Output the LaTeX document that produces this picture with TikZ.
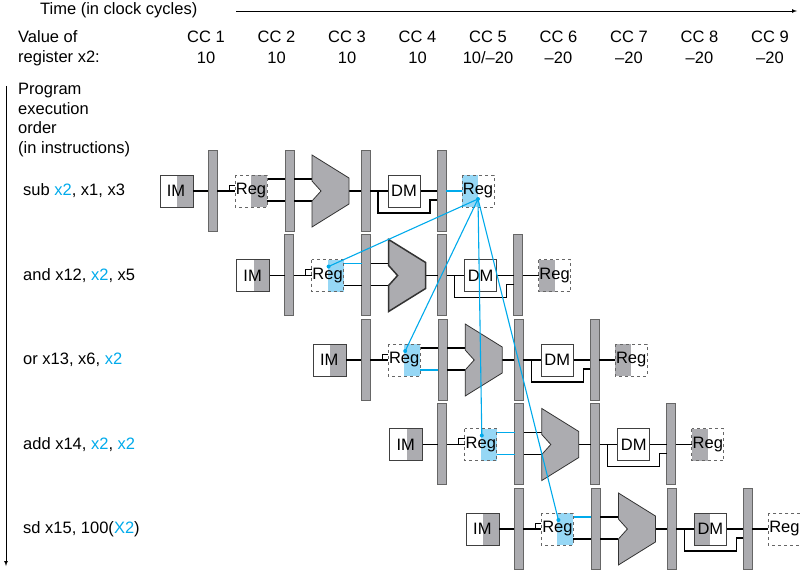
\documentclass[tikz,border=0pt]{standalone}
\usepackage{fontspec}
\setmainfont{Liberation Sans}
\begin{document}
\begin{tikzpicture}[x=1pt,y=-1pt,
  every node/.style={font=\fontsize{16.5}{20}\selectfont, inner sep=0pt},
  pipe/.style={fill=grayf, draw=black!60, line width=0.8pt},
  box/.style={draw=black!75, line width=0.8pt},
  dbox/.style={draw=black!60, dashed, line width=0.7pt},
  wire/.style={line width=1.1pt},
  hg/.style={fill=grayf}, hb/.style={fill=lblue}, hn/.style={},
  lk/.style={draw=black}, lc/.style={draw=cyanl},
  fwd/.style={draw=cyanl, line width=1.1pt},
  arr/.style={-latex, line width=0.7pt}]
\definecolor{grayf}{RGB}{172,172,176}
\definecolor{lblue}{RGB}{150,215,245}
\definecolor{cyanl}{RGB}{0,170,235}
\useasboundingbox (0,0) rectangle (800,572);
% header
\node[anchor=west] (time) at (40,10) {Time (in clock cycles)};
\coordinate (tarrS) at (236,11); \coordinate (tarrE) at (797,11);
\draw[arr] (tarrS) -- (tarrE);
\node[anchor=west] (vo) at (18,37) {Value of};
\node[anchor=west] (rx) at (18,58) {register x2:};
\foreach \k in {1,...,9}{
  \node (cc\k) at ({206+70.5*(\k-1)},37) {CC \k};
}
\foreach \k/\v in {1/10,2/10,3/10,4/10,5/{10/\textendash20},6/\textendash20,7/\textendash20,8/\textendash20,9/\textendash20}{
  \node (val\k) at ({206+70.5*(\k-1)},58) {\v};
}
\node[anchor=north west, align=left, font=\fontsize{16.5}{19.5}\selectfont] (peo) at (18,83) {Program\\execution\\order\\(in instructions)};
\coordinate (vaS) at (6,86); \coordinate (vaE) at (6,566);
\draw[arr] (vaS) -- (vaE);
\node[anchor=west] (i0) at (23,191) {sub \textcolor{cyanl}{x2}, x1, x3};
\node[anchor=west] (i1) at (23,275.5) {and x12, \textcolor{cyanl}{x2}, x5};
\node[anchor=west] (i2) at (23,360) {or x13, x6, \textcolor{cyanl}{x2}};
\node[anchor=west] (i3) at (23,444.5) {add x14, \textcolor{cyanl}{x2}, \textcolor{cyanl}{x2}};
\node[anchor=west] (i4) at (23,529) {sd x15, 100(\textcolor{cyanl}{X2})};
% rows
\foreach \i/\idf/\dmf/\wbf/\tc/\bc/\wc/\alw in {0/hg/hn/hb/lk/lk/lc/0.8pt,1/hb/hn/hg/lc/lk/lk/1.5pt,2/hb/hn/hg/lk/lc/lk/0.8pt,3/hb/hn/hg/lc/lc/lk/0.8pt,4/hb/hg/hn/lc/lk/lk/0.8pt}{
\begin{scope}[shift={(\i*76.6,\i*84.5)}]
  % IM
  \fill[grayf] (177,175) rectangle (193,207);
  \draw[box] (160,175) rectangle (193,207);
  \node (im\i) at (176,191) {IM};
  % pipeline regs
  \draw[pipe] (208,150) rectangle (217,231);
  \draw[pipe] (285,150) rectangle (294,231);
  \draw[pipe] (361,150) rectangle (370,231);
  \draw[pipe] (437,150) rectangle (446,231);
  % wires
  \draw[wire] (193,191) -- (208,191);
  \draw[wire] (217,191) -- (235,191);
  \draw[line width=0.7pt] (235,185) -- (229,185) -- (229,191);
  \draw[wire,\tc] (267,179) -- (285,179);
  \draw[wire] (294,179) -- (312,179);
  \draw[wire,\bc] (267,201) -- (285,201);
  \draw[wire] (294,201) -- (312,201);
  \draw[wire] (349,191) -- (361,191);
  \draw[wire] (370,191) -- (388,191);
  \draw[wire] (378,191) -- (378,213) -- (430,213) -- (430,200) -- (437,200);
  \draw[wire] (420,191) -- (437,191);
  \draw[wire,\wc] (446,191) -- (462,191);
  % ID reg
  \path[\idf] (251,175) rectangle (267,207);
  \draw[dbox] (235,175) rectangle (267,207);
  \node (rid\i) at (251,191) {Reg};
  % ALU
  \draw[fill=grayf, draw=black!80, line width=\alw] (312,155) -- (349,178) -- (349,204) -- (312,227) -- (312,201) -- (321,191) -- (312,181) -- cycle;
  % DM
  \path[\dmf] (388,175) rectangle (404,207);
  \draw[box] (388,175) rectangle (420,207);
  \node (dm\i) at (404,191) {DM};
  % WB reg
  \path[\wbf] (462,175) rectangle (478,207);
  \draw[dbox] (462,175) rectangle (494,207);
  \node (rwb\i) at (478,191) {Reg};
  \coordinate (d\i) at (252,182);
\end{scope}
}
\coordinate (src) at (478,199);
\foreach \j in {1,2,3,4}{
  \draw[fwd] (src) -- (d\j);
  \fill[cyanl] (d\j) circle (2);
}
\fill[cyanl] (src) circle (2);
\end{tikzpicture}
\end{document}
